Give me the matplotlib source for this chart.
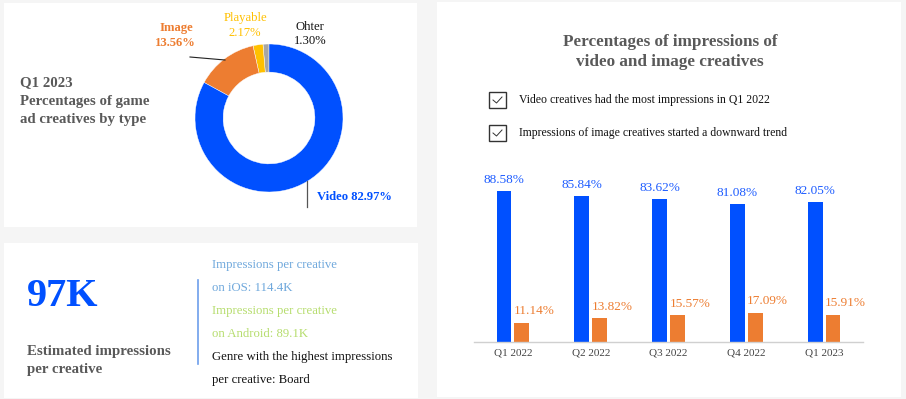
import matplotlib
matplotlib.use("Agg")
import matplotlib.pyplot as plt
from matplotlib.patches import Rectangle
from matplotlib.lines import Line2D

# ---------------- data ----------------
pie_labels = ["Ohter", "Playable", "Image", "Video"]
pie_values = [1.30, 2.17, 13.56, 82.97]

quarters = ["Q1 2022", "Q2 2022", "Q3 2022", "Q4 2022", "Q1 2023"]
video_share = [88.58, 85.84, 83.62, 81.08, 82.05]
image_share = [11.14, 13.82, 15.57, 17.09, 15.91]

headline_value = "97K"
info_lines = ["Impressions per creative", "on iOS: 114.4K",
              "Impressions per creative", "on Android: 89.1K",
              "Genre with the highest impressions", "per creative: Board"]
checks = ["Video creatives had the most impressions in Q1 2022",
          "Impressions of image creatives started a downward trend"]

# ---------------- style ----------------
plt.rcParams['font.family'] = ['Liberation Serif', 'DejaVu Serif']
BLUE = '#0050ff'
ORANGE = '#ed7d31'
YELLOW = '#ffc000'
GREY = '#a6a6a6'
TITLE = '#595959'

W, H = 906, 399
fig = plt.figure(figsize=(W / 100, H / 100), dpi=100, facecolor='#f5f5f5')


def fx(x):
    return x / W


def fy(y):
    return 1 - y / H


def panel(x0, y0, x1, y1):
    fig.patches.append(Rectangle((fx(x0), fy(y1)), (x1 - x0) / W, (y1 - y0) / H,
                                 transform=fig.transFigure, facecolor='white',
                                 edgecolor='none', zorder=-10))


def txt(x, y, s, **kw):
    fig.text(fx(x), fy(y), s, **kw)


panel(4, 3, 417, 227)
panel(4, 243, 418, 398)
panel(437, 2, 901, 397)

# ---------------- donut ----------------
cx, cy, r = 269, 118, 74
axp = fig.add_axes([fx(cx - r), fy(cy + r), 2 * r / W, 2 * r / H])
axp.pie(pie_values, colors=[GREY, YELLOW, ORANGE, BLUE], startangle=90,
        counterclock=True, radius=1,
        wedgeprops=dict(width=0.38, edgecolor='white', linewidth=0.3))
axp.set_xlim(-1, 1)
axp.set_ylim(-1, 1)
axp.set_aspect('auto')
axp.axis('off')

lbl_fs = 9.1
txt(176, 28, pie_labels[2], color=ORANGE, fontsize=lbl_fs, fontweight='bold', ha='center', va='center')
txt(175, 43, f"{pie_values[2]:.2f}%", color=ORANGE, fontsize=lbl_fs, fontweight='bold', ha='center', va='center')
txt(245, 18, pie_labels[1], color=YELLOW, fontsize=lbl_fs, ha='center', va='center')
txt(245, 33, f"{pie_values[1]:.2f}%", color=YELLOW, fontsize=lbl_fs, ha='center', va='center')
txt(310, 27, pie_labels[0], color='#111111', fontsize=lbl_fs, ha='center', va='center')
txt(310, 41, f"{pie_values[0]:.2f}%", color='#111111', fontsize=lbl_fs, ha='center', va='center')
txt(317, 197, f"{pie_labels[3]} {pie_values[3]:.2f}%", color=BLUE, fontsize=lbl_fs,
    fontweight='bold', ha='left', va='center')
fig.lines.append(Line2D([fx(190), fx(225)], [fy(57), fy(60)], transform=fig.transFigure,
                        color='#222222', linewidth=0.8))
fig.lines.append(Line2D([fx(307), fx(307)], [fy(181), fy(207)], transform=fig.transFigure,
                        color='#555555', linewidth=0.9))

for yy, s in zip([83, 101, 120], ["Q1 2023", "Percentages of game", "ad creatives by type"]):
    txt(20, yy, s, color=TITLE, fontsize=10.75, fontweight='bold', ha='left', va='center')

# ---------------- headline card ----------------
txt(27, 296, headline_value, color=BLUE, fontsize=29, fontweight='bold', ha='left', va='center')
txt(27, 351, "Estimated impressions", color=TITLE, fontsize=10.7, fontweight='bold', ha='left', va='center')
txt(27, 369, "per creative", color=TITLE, fontsize=10.7, fontweight='bold', ha='left', va='center')
fig.lines.append(Line2D([fx(198), fx(198)], [fy(280), fy(364)], transform=fig.transFigure,
                        color='#6d9eeb', linewidth=1.2))
info_colors = ['#6fa8dc', '#6fa8dc', '#b6dd6e', '#b6dd6e', '#111111', '#111111']
for yy, s, c in zip([265, 288, 311, 334, 357, 380], info_lines, info_colors):
    txt(212, yy, s, color=c, fontsize=9.2, ha='left', va='center')

# ---------------- right panel ----------------
txt(670, 42, "Percentages of impressions of", color=TITLE, fontsize=12.3, fontweight='bold', ha='center', va='center')
txt(670, 62, "video and image creatives", color=TITLE, fontsize=12.3, fontweight='bold', ha='center', va='center')
for yy, s in zip([100, 133], checks):
    fig.patches.append(Rectangle((fx(489), fy(yy + 8)), 17 / W, 16 / H, transform=fig.transFigure,
                                 facecolor='white', edgecolor='#333333', linewidth=1.0))
    fig.lines.append(Line2D([fx(493), fx(496.5), fx(502)], [fy(yy), fy(yy + 3), fy(yy - 3)],
                            transform=fig.transFigure, color='#333333', linewidth=0.7))
    txt(519, yy, s, color='#111111', fontsize=8.5, ha='left', va='center')

ax = fig.add_axes([fx(474), fy(342), (863 - 474) / W, 170.5 / H])
ax.set_facecolor('none')
xs = list(range(len(quarters)))
bw, off = 0.19, 0.115
ax.bar([x - off for x in xs], video_share, width=bw, color=BLUE)
ax.bar([x + off for x in xs], image_share, width=bw, color=ORANGE)
for x, v in zip(xs, video_share):
    ax.annotate(f"{v:.2f}%", (x - off, v), xytext=(0, 8), textcoords='offset points',
                ha='center', va='center', color='#1d5cff', fontsize=9.5)
for x, v in zip(xs, image_share):
    ax.annotate(f"{v:.2f}%", (x + off - bw / 2, v), xytext=(-0.5, 8.5), textcoords='offset points',
                ha='left', va='center', color=ORANGE, fontsize=9.5)
ax.set_xlim(-0.5, len(quarters) - 0.5)
ax.set_ylim(0, 100)
ax.set_xticks(xs)
ax.set_xticklabels(quarters, color='#444444', fontsize=8)
ax.tick_params(axis='x', length=0, pad=5)
ax.set_yticks([])
for side in ['top', 'right', 'left']:
    ax.spines[side].set_visible(False)
ax.spines['bottom'].set_color('#d0d0d0')
ax.spines['bottom'].set_linewidth(1.0)

fig.savefig('out.png', dpi=100, facecolor=fig.get_facecolor())
